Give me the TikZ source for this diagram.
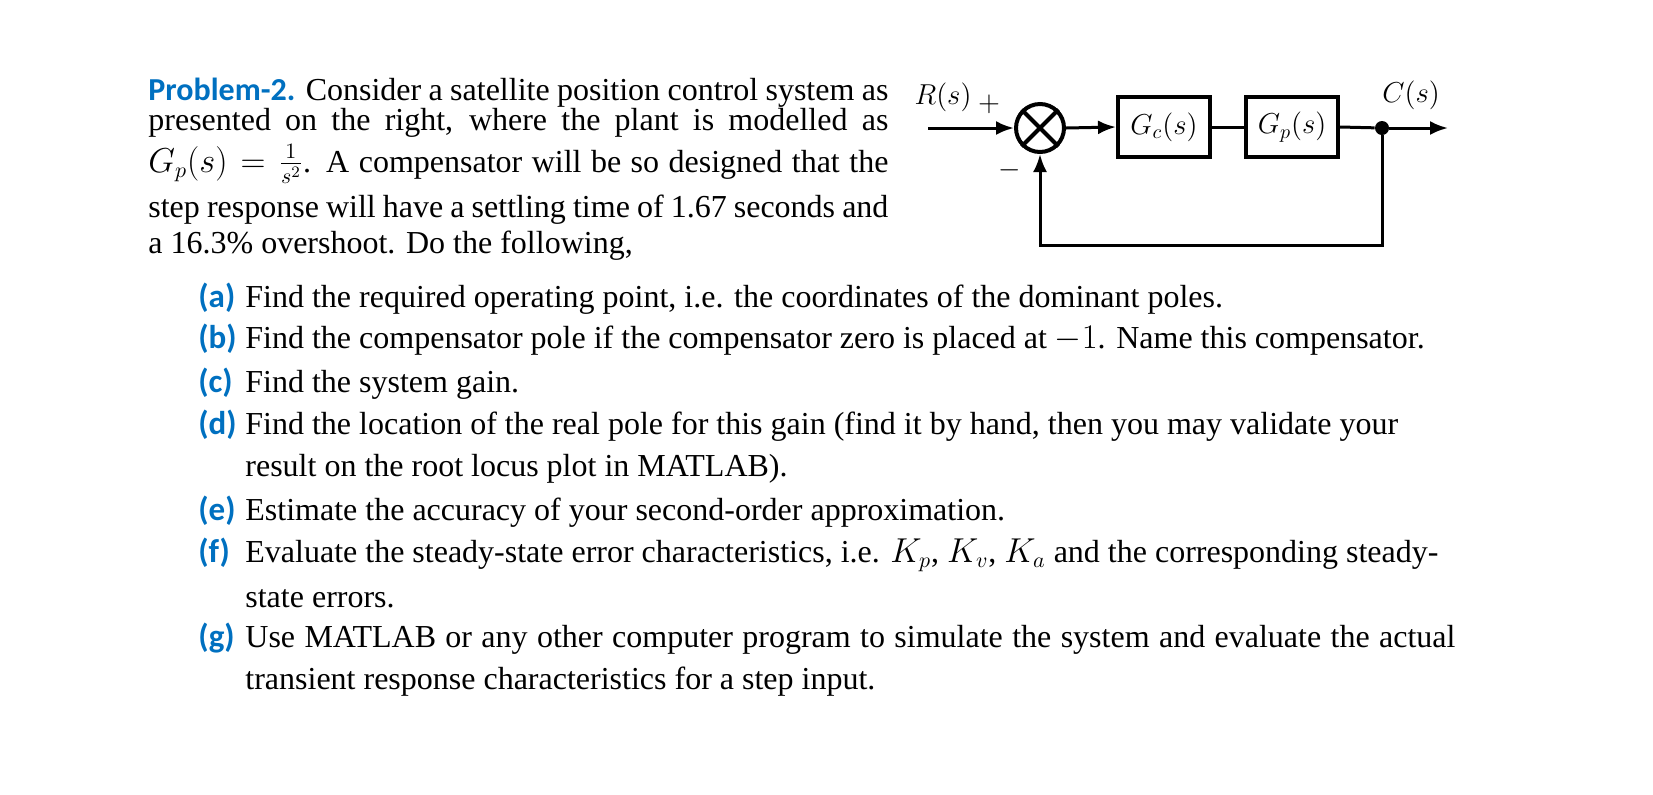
\documentclass[tikz,border=0pt]{standalone}
\usepackage{amsmath}
\usepackage{fontspec}
\setmainfont{Liberation Serif}
\newfontfamily\lblfont{Carlito}
\usetikzlibrary{arrows.meta}
\definecolor{pblue}{RGB}{0,112,192}
\tikzset{
 txt/.style={anchor=base west,inner sep=0pt,font=\fontsize{16pt}{19pt}\selectfont},
 lbl/.style={anchor=base west,inner sep=0pt,font=\fontsize{16.5pt}{19pt}\lblfont\bfseries,text=pblue},
 blk/.style={draw,line width=2pt,minimum width=46pt,minimum height=30pt,inner sep=0pt,font=\fontsize{14pt}{16pt}\selectfont},
 wire/.style={line width=1.5pt},
 arr/.style={wire,-{Latex[length=9pt,width=7pt]}},
 dlbl/.style={inner sep=0pt,font=\fontsize{14pt}{16pt}\selectfont}
}
\newcommand{\jl}[1]{\makebox[370pt][s]{#1}}
\begin{document}
\begin{tikzpicture}[x=0.5pt,y=-0.5pt]
\useasboundingbox (0,0) rectangle (1653,794);
% paragraph
\node[txt] (p1) at (148,100) {\jl{{\lblfont\bfseries\color{pblue}Problem-2.} Consider a satellite position control system as}};
\node[txt] (p2) at (148,130) {\jl{presented on the right, where the plant is modelled as}};
\node[txt] (p3) at (148,172) {\jl{$G_p(s)=\frac{1}{s^2}$. A compensator will be so designed that the}};
\node[txt] (p4) at (148,217) {\jl{step response will have a settling time of 1.67 seconds and}};
\node[txt] (p5) at (148,253) {a 16.3\% overshoot. Do the following,};
% items
\node[lbl] (la) at (198,307) {(a)};
\node[txt] (ta) at (245,307) {Find the required operating point, i.e. the coordinates of the dominant poles.};
\node[lbl] (lb) at (198,348) {(b)};
\node[txt] (tb) at (245,348) {Find the compensator pole if the compensator zero is placed at $-1$. Name this compensator.};
\node[lbl] (lc) at (198,392) {(c)};
\node[txt] (tc) at (245,392) {Find the system gain.};
\node[lbl] (ld) at (198,434) {(d)};
\node[txt] (td) at (245,434) {Find the location of the real pole for this gain (find it by hand, then you may validate your};
\node[txt] (td2) at (245,476) {result on the root locus plot in MATLAB).};
\node[lbl] (le) at (198,520) {(e)};
\node[txt] (te) at (245,520) {Estimate the accuracy of your second-order approximation.};
\node[lbl] (lf) at (198,562) {(f)};
\node[txt] (tf) at (245,562) {Evaluate the steady-state error characteristics, i.e. $K_p$, $K_v$, $K_a$ and the corresponding steady-};
\node[txt] (tf2) at (245,607) {state errors.};
\node[lbl] (lg) at (198,647) {(g)};
\node[txt] (tg) at (245,647) {\makebox[605pt][s]{Use MATLAB or any other computer program to simulate the system and evaluate the actual}};
\node[txt] (tg2) at (245,689) {transient response characteristics for a step input.};
% block diagram
\coordinate (in) at (928,128);
\node[draw,circle,line width=2pt,minimum size=24pt,inner sep=0pt] (sum) at (1040,128) {};
\draw[line width=2pt] (sum.north west) -- (sum.south east) (sum.north east) -- (sum.south west);
\node[blk] (gc) at (1164,127) {$G_c(s)$};
\node[blk] (gp) at (1292,127) {$G_p(s)$};
\node[circle,fill,inner sep=0pt,minimum size=7pt] (dot) at (1382,128) {};
\coordinate (out) at (1448,128);
\coordinate (fb) at (1382,245);
\coordinate (fb2) at (1040,245);
\draw[arr] (in) -- (sum.west);
\draw[arr] (sum.east) -- (gc.west);
\draw[wire] (gc.east) -- (gp.west);
\draw[wire] (gp.east) -- (dot);
\draw[arr] (dot) -- (out);
\draw[arr] (dot) -- (fb) -- (fb2) -- (sum.south);
\node[dlbl] (rs) at (943,97) {$R(s)$};
\node[dlbl] (plus) at (989,104) {$+$};
\node[dlbl] (minus) at (1010,170) {$-$};
\node[dlbl] (cs) at (1411,95) {$C(s)$};
\end{tikzpicture}
\end{document}
